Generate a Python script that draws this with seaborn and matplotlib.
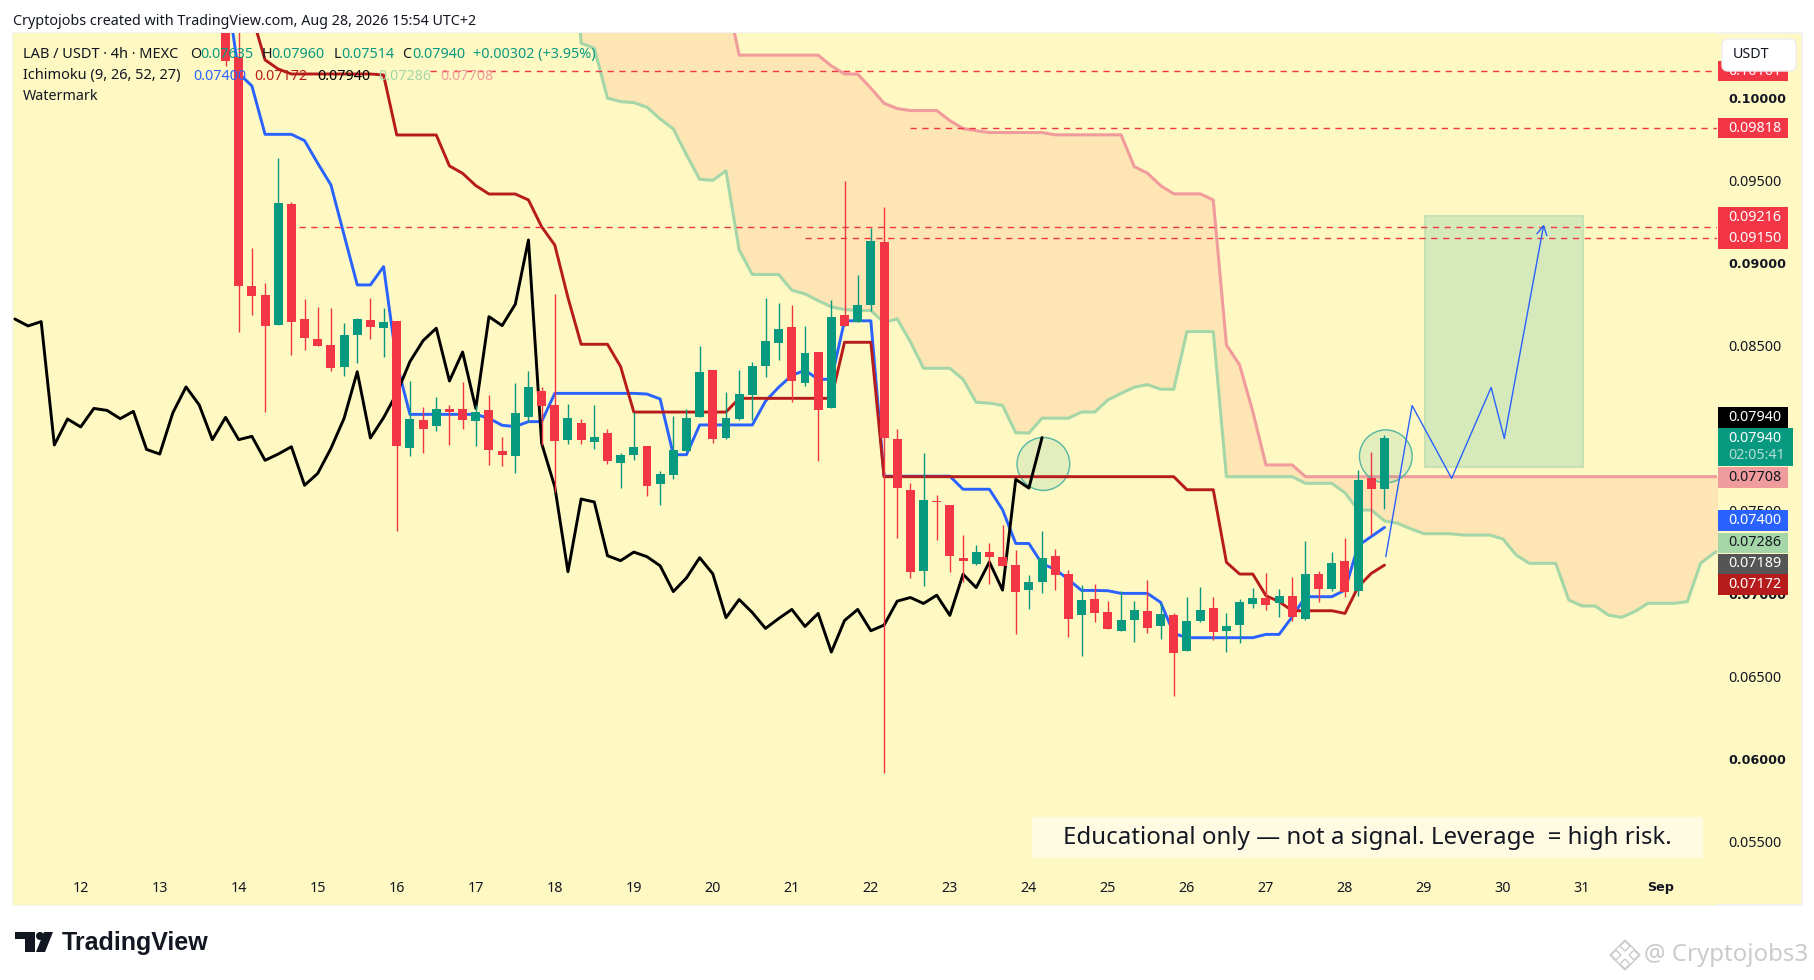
import numpy as np
import matplotlib
matplotlib.use('Agg')
import matplotlib.pyplot as plt
from matplotlib.patches import Rectangle, Ellipse, Polygon, FancyBboxPatch
from matplotlib.transforms import blended_transform_factory, IdentityTransform
import seaborn as sns

# all prices are in units of 0.00001 USDT
first_candle = 11
opens = [10500, 10248, 8860, 8806, 8625, 9357, 8661, 8540, 8504, 8373, 8564, 8655, 8609, 8649, 7882, 8050, 8016, 8114,
         8116, 8046, 8110, 7862, 7834, 8070, 8225, 8141, 7931, 8032, 7919, 7971, 7792, 7840, 7893, 7665, 7719, 7864,
         8070, 8352, 7942, 8057, 8203, 8379, 8518, 8614, 8272, 8463, 8121, 8685, 8640, 8748, 9128, 7937, 7629, 7134,
         7559, 7538, 7217, 7177, 7253, 7222, 7170, 7024, 7072, 7228, 7118, 6873, 6968, 6888, 6773, 6840, 6894, 6803,
         6870, 6652, 6834, 6912, 6773, 6810, 6937, 6973, 6943, 6985, 6846, 7118, 7027, 7197, 7015, 7699, 7635]
highs = [10600, 10600, 9088, 8877, 9633, 9371, 8782, 8732, 8726, 8635, 8669, 8786, 8726, 8649, 8286, 8131, 8187, 8141,
         8280, 8141, 8201, 7947, 8274, 8346, 8250, 8812, 8147, 8054, 8141, 7995, 7848, 8098, 7893, 7741, 8074, 8116,
         8498, 8352, 8222, 8353, 8401, 8788, 8760, 8748, 8619, 8463, 8776, 9496, 8927, 9209, 9336, 7997, 7667, 7851,
         7598, 7538, 7356, 7296, 7308, 7416, 7265, 7115, 7380, 7270, 7143, 7052, 7058, 6955, 7015, 6955, 7082, 6943,
         6882, 6979, 7040, 6979, 6882, 6967, 7033, 7124, 7027, 7100, 7318, 7136, 7251, 7336, 7747, 7856, 7960]
lows = [10194, 8584, 8685, 8100, 8625, 8445, 8473, 8500, 8348, 8318, 8397, 8540, 8433, 7380, 7834, 7852, 7985, 7899,
        7997, 7895, 7780, 7774, 7731, 8040, 7899, 7616, 7907, 7907, 7876, 7786, 7640, 7810, 7592, 7538, 7695, 7864,
        8070, 7911, 7937, 8052, 8052, 8308, 8415, 8157, 8253, 7801, 8121, 8616, 8640, 8707, 5917, 7335, 7093, 7043,
        7323, 7131, 7069, 7172, 7060, 7165, 6754, 6907, 7006, 7022, 6740, 6625, 6830, 6785, 6773, 6707, 6761, 6725,
        6380, 6652, 6828, 6719, 6646, 6701, 6912, 6900, 6858, 6834, 6840, 6949, 7015, 6979, 6985, 7354, 7514]
closes = [10222, 8862, 8800, 8620, 9365, 8645, 8548, 8500, 8367, 8564, 8661, 8615, 8643, 7895, 8056, 7997, 8116, 8098,
          8052, 8098, 7870, 7840, 8092, 8250, 8137, 7925, 8062, 7931, 7947, 7804, 7838, 7886, 7653, 7723, 7868, 8062,
          8340, 7937, 8064, 8207, 8377, 8530, 8602, 8284, 8456, 8109, 8674, 8616, 8745, 9133, 7942, 7636, 7129, 7567,
          7555, 7225, 7196, 7253, 7220, 7165, 7007, 7070, 7216, 7115, 6848, 6962, 6885, 6785, 6840, 6900, 6791, 6876,
          6640, 6834, 6900, 6767, 6803, 6949, 6973, 6931, 6985, 6858, 7118, 7027, 7185, 7009, 7687, 7632, 7940]

first_tenkan = 11
tenkan = [10700, 10147, 10071, 9778, 9778, 9778, 9740, 9603, 9472, 9169, 8867, 8867, 8978, 8393, 8084, 8084, 8084, 8084,
          8084, 8084, 8060, 8018, 8010, 8040, 8040, 8211, 8211, 8211, 8211, 8211, 8211, 8211, 8207, 8177, 7840, 7840,
          8020, 8020, 8020, 8020, 8020, 8164, 8248, 8320, 8351, 8296, 8296, 8650, 8650, 8650, 7710, 7710, 7710, 7710,
          7710, 7710, 7631, 7631, 7631, 7507, 7303, 7303, 7180, 7147, 7085, 7019, 7019, 7017, 7001, 7001, 7001, 6947,
          6759, 6733, 6733, 6733, 6733, 6733, 6733, 6753, 6753, 6860, 6981, 6981, 6981, 7021, 7290, 7345, 7400]

first_kijun = 13
kijun = [10500, 10228, 10173, 10143, 10143, 10143, 10143, 10143, 10143, 10143, 10137, 9774, 9774, 9774, 9774, 9587, 9542,
         9468, 9417, 9417, 9417, 9381, 9219, 9108, 8790, 8508, 8508, 8508, 8373, 8098, 8098, 8098, 8098, 8098, 8098,
         8098, 8098, 8181, 8181, 8181, 8181, 8181, 8181, 8181, 8181, 8520, 8520, 8520, 7707, 7707, 7707, 7707, 7707,
         7707, 7707, 7707, 7707, 7707, 7707, 7707, 7707, 7707, 7707, 7707, 7707, 7707, 7707, 7707, 7707, 7707, 7707,
         7628, 7628, 7628, 7189, 7118, 7118, 6987, 6951, 6896, 6896, 6896, 6896, 6880, 7041, 7122, 7172]

first_chikou = -5
chikou = [8661, 8619, 8645, 7899, 8056, 8008, 8120, 8108, 8058, 8102, 7872, 7844, 8094, 8250, 8141, 7931, 8066, 7931,
          7951, 7806, 7844, 7888, 7655, 7727, 7878, 8060, 8342, 7941, 8064, 8211, 8403, 8530, 8605, 8286, 8461, 8120,
          8675, 8621, 8750, 9139, 7909, 7646, 7132, 7572, 7554, 7229, 7199, 7251, 7223, 7168, 7012, 7095, 7217, 7119,
          6854, 6964, 6885, 6789, 6849, 6904, 6801, 6880, 6646, 6837, 6904, 6775, 6809, 6954, 6976, 6940, 6990, 6868,
          7117, 7036, 7191, 7021, 7691, 7638, 7944]

first_cloud = 37
lead_green = [11500, 10329, 10299, 9997, 9976, 9970, 9942, 9871, 9811, 9654, 9506, 9500, 9557, 9079, 8930, 8930, 8930,
              8835, 8813, 8772, 8734, 8718, 8712, 8712, 8639, 8662, 8523, 8363, 8363, 8363, 8296, 8157, 8152, 8138,
              7973, 7971, 8061, 8061, 8061, 8098, 8098, 8171, 8211, 8248, 8264, 8236, 8236, 8585, 8585, 8585, 7707,
              7707, 7707, 7707, 7707, 7707, 7667, 7667, 7667, 7610, 7505, 7505, 7440, 7425, 7392, 7362, 7362, 7362,
              7354, 7354, 7354, 7330, 7233, 7183, 7183, 7183, 6961, 6925, 6925, 6870, 6856, 6891, 6941, 6941, 6941,
              6951, 7183, 7244, 7286]
lead_pink = [10800, 10800, 10800, 10800, 10800, 10800, 10800, 10800, 10800, 10800, 10800, 10800, 10632, 10257, 10257,
             10257, 10257, 10257, 10257, 10257, 10192, 10144, 10142, 10057, 9966, 9934, 9922, 9922, 9922, 9861, 9813,
             9800, 9789, 9789, 9789, 9789, 9789, 9775, 9775, 9775, 9775, 9775, 9775, 9583, 9543, 9468, 9418, 9418,
             9418, 9381, 8504, 8383, 8101, 7778, 7778, 7778, 7707, 7707, 7707, 7707, 7707, 7707, 7707, 7707, 7707,
             7707, 7707, 7707, 7707, 7707, 7707, 7707, 7707, 7707, 7707, 7707, 7707, 7707, 7707, 7707, 7707, 7707,
             7707, 7707, 7707, 7707, 7707, 7707, 7707]

# hand drawn path and target box
path_x = [99.1, 101.1, 104.1, 107.1, 108.1, 111.1]
path_y = [7223, 8137, 7697, 8247, 7939, 9234]
box_x = [102.07, 114.05]
box_y = [7767, 9284]
circle_x = [73.1, 99.1]
circle_y = [7784, 7830]

# dashed levels: price and the bar they start from
level_prices = [10161, 9818, 9216, 9150]
level_starts = [26.5, 63, 16.6, 55]

day_ticks = [0, 6, 12, 18, 24, 30, 36, 42, 48, 54, 60, 66, 72, 78, 84, 90, 96, 102, 108, 114, 120]
day_labels = ['12', '13', '14', '15', '16', '17', '18', '19', '20', '21', '22', '23', '24', '25', '26', '27', '28', '29',
              '30', '31', 'Sep']
price_ticks = [5500, 6000, 6500, 7000, 7500, 8000, 8500, 9000, 9500, 10000]
bold_ticks = [6000, 7000, 8000, 9000, 10000]

badge_labels = ['0.10161', '0.09818', '0.09216', '0.09150', '0.07940', '0.07708', '0.07400', '0.07286', '0.07189', '0.07172']
badge_centers = [10160, 9815, 9274, 9149, 8065, 7702, 7442, 7306, 7180, 7054]
badge_colors = ['#F23645', '#F23645', '#F23645', '#F23645', '#000000', '#F19C9C', '#2962FF', '#A5D6A7', '#555555', '#B71C1C']
badge_text = ['white', 'white', 'white', 'white', 'white', '#131722', 'white', '#131722', 'white', 'white']

UP = '#089981'
DOWN = '#F23645'
BG = '#FEF8C3'
W, H = 1815, 980
FONT = 'Noto Sans'
AX_W = 1704

sns.set_theme(style='white')
plt.rcParams['font.family'] = [FONT, 'DejaVu Sans']
plt.rcParams['axes.unicode_minus'] = False


def fx(x):
    return x / W


def fy(y):
    return 1 - y / H


def put(x, y, s, **kw):
    """text at figure pixel position, y is the text centre"""
    kw.setdefault('color', '#131722')
    kw.setdefault('fontsize', 10.3)
    kw.setdefault('zorder', 6)
    fig.text(fx(x), fy(y + 1.5), s, va='center', **kw)


fig = plt.figure(figsize=(W / 100, H / 100), dpi=100, facecolor='white')
fig.add_artist(Rectangle((fx(13), fy(905)), 1789 / W, 872 / H, transform=fig.transFigure, fc=BG, ec='#F0F0F0', lw=1.2, zorder=-1))
ax = fig.add_axes([fx(13), fy(905), AX_W / W, 872 / H], facecolor=BG)

o = np.array(opens) / 1e5
h = np.array(highs) / 1e5
l = np.array(lows) / 1e5
c = np.array(closes) / 1e5
bars = np.arange(first_candle, first_candle + len(o))
up = c >= o
colors = np.where(up, UP, DOWN)

# cloud
cloud_x = np.arange(first_cloud, first_cloud + len(lead_green))
green = np.array(lead_green) / 1e5
pink = np.array(lead_pink) / 1e5
ax.fill_between(cloud_x, green, pink, color='#FDE5B4', lw=0, zorder=1)
sns.lineplot(x=cloud_x, y=pink, ax=ax, color='#F19C9C', lw=2.2, estimator=None, zorder=2)
sns.lineplot(x=cloud_x, y=green, ax=ax, color='#A5D6A7', lw=2.2, estimator=None, zorder=2)

# target box and circles
ax.add_patch(Rectangle((box_x[0], box_y[0] / 1e5), box_x[1] - box_x[0], (box_y[1] - box_y[0]) / 1e5,
                       fc='#D6E9BB', ec='#C6E2B4', lw=1.5, zorder=2.2))
for i in range(2):
    ax.add_patch(Ellipse((circle_x[i], circle_y[i] / 1e5), 4.0, 320 / 1e5, fc=(0.03, 0.6, 0.5, 0.1),
                         ec='#55B5A3', lw=1, zorder=2.3))

# tenkan, then kijun, then the lagging line, like the indicator draws them
sns.lineplot(x=np.arange(first_tenkan, first_tenkan + len(tenkan)), y=np.array(tenkan) / 1e5, ax=ax, color='#2962FF', lw=2.1,
             estimator=None, zorder=3)
sns.lineplot(x=np.arange(first_kijun, first_kijun + len(kijun)), y=np.array(kijun) / 1e5, ax=ax, color='#B71C1C', lw=2.1,
             estimator=None, zorder=3)
sns.lineplot(x=np.arange(first_chikou, first_chikou + len(chikou)), y=np.array(chikou) / 1e5, ax=ax, color='black', lw=2.1,
             estimator=None, zorder=3)

# dashed levels
for p, s in zip(level_prices, level_starts):
    ax.hlines(p / 1e5, s, 125, colors='#F23645', lw=1, linestyles=(0, (4.5, 4)), zorder=3)

# candles on top of the lines
ax.vlines(bars, l, h, colors=colors, lw=1, zorder=4)
ax.bar(bars, np.maximum(np.abs(c - o), 0.00005), bottom=np.minimum(o, c), width=0.68, color=colors, lw=0, zorder=5)

# path with arrow at the end
px_ = np.array(path_x)
py_ = np.array(path_y) / 1e5
sns.lineplot(x=px_[:-1], y=py_[:-1], ax=ax, color='#2962FF', lw=1.0, estimator=None, sort=False, zorder=6)
ax.annotate('', xy=(px_[-1], py_[-1]), xytext=(px_[-2], py_[-2]), zorder=6,
            arrowprops=dict(arrowstyle='->,head_length=0.55,head_width=0.3', color='#2962FF', lw=1.0, shrinkA=0, shrinkB=0))

ax.set_xlim(-5.14, 124.25)
ax.set_ylim(0.05116, 0.10391)
ax.set_xlabel('')
ax.set_ylabel('')
sns.despine(ax=ax, left=True, right=True, top=True, bottom=True)

ax.set_xticks(day_ticks)
ax.set_xticklabels(day_labels)
ax.tick_params(axis='x', length=0, pad=-17, labelsize=10.3, labelcolor='#131722')
for t, s in zip(ax.get_xticklabels(), day_labels):
    if s == 'Sep':
        t.set_fontfamily('DejaVu Sans')
        t.set_fontweight('bold')
        t.set_fontsize(9.15)

ax.yaxis.tick_right()
ax.set_yticks([p / 1e5 for p in price_ticks])
ax.set_yticklabels(['%.5f' % (p / 1e5) for p in price_ticks])
ax.tick_params(axis='y', length=0, pad=8, labelsize=10.3, labelcolor='#131722')
for t, p in zip(ax.get_yticklabels(), price_ticks):
    if p in bold_ticks:
        t.set_fontfamily('DejaVu Sans')
        t.set_fontweight('bold')
        t.set_fontsize(9.15)

# price badges
trans = blended_transform_factory(ax.transAxes, ax.transData)
for lab, cen, col, tc in zip(badge_labels, badge_centers, badge_colors, badge_text):
    ax.add_patch(Rectangle((1 + 1 / AX_W, (cen - 62) / 1e5), 70 / AX_W, 124 / 1e5, transform=trans, fc=col, lw=0, clip_on=False, zorder=10))
    ax.text(1 + 11 / AX_W, cen / 1e5, lab, transform=trans, color=tc, fontsize=10.3, ha='left', va='center', zorder=11)
ax.add_patch(Rectangle((1 + 1 / AX_W, 7773 / 1e5), 75 / AX_W, 228 / 1e5, transform=trans, fc=UP, lw=0, clip_on=False, zorder=10))
ax.text(1 + 11 / AX_W, 7935 / 1e5, '0.07940', transform=trans, color='white', fontsize=10.3, ha='left', va='center', zorder=11)
ax.text(1 + 11 / AX_W, 7834 / 1e5, '02:05:41', transform=trans, color='#B5DDD5', fontsize=10.3, ha='left', va='center', zorder=11)

# header and legend rows
put(13, 20, 'Cryptojobs created with TradingView.com, Aug 28, 2026 15:54 UTC+2')
put(23, 53, 'LAB / USDT · 4h · MEXC', fontsize=10.5)
for x, s, col in [(190, 'O', '#131722'), (200, '0.07635', UP), (262, 'H', '#131722'), (271, '0.07960', UP),
                  (333.6, 'L', '#131722'), (341, '0.07514', UP), (402, 'C', '#131722'), (412, '0.07940', UP),
                  (473.5, '+0.00302 (+3.95%)', UP)]:
    put(x, 53, s, color=col)
put(23, 74.5, 'Ichimoku (9, 26, 52, 27)', fontsize=10.5)
for x, s, col in [(193, '0.07400', '#2962FF'), (254.5, '0.07172', '#B71C1C'), (317, '0.07940', 'black'),
                  (378.6, '0.07286', '#A5D6A7'), (440, '0.07708', '#F19C9C')]:
    put(x, 74.5, s, color=col)
put(23, 95.5, 'Watermark')

# currency box, drawn in pixels so the corners stay round
fig.add_artist(FancyBboxPatch((1728, H - 65), 62, 20, transform=IdentityTransform(), fc='white', ec='#EEEEEE', lw=1,
                              boxstyle='round,pad=6,rounding_size=6', zorder=5))
put(1733, 53.5, 'USDT')

# educational note
fig.add_artist(Rectangle((fx(1032), fy(858)), 671 / W, 41 / H, transform=fig.transFigure, fc='#FFFBE3', lw=0, zorder=2))
put(1367, 836, 'Educational only — not a signal. Leverage  = high risk.', fontsize=17.3, ha='center')

# TradingView logo
logo = '#131722'
fig.add_artist(Polygon([(fx(15), fy(932)), (fx(35), fy(932)), (fx(35), fy(952)), (fx(25), fy(952)), (fx(25), fy(939)), (fx(15), fy(939))],
                       transform=fig.transFigure, fc=logo, lw=0))
fig.add_artist(Polygon([(fx(44), fy(932)), (fx(53), fy(932)), (fx(45), fy(952)), (fx(36), fy(952))], transform=fig.transFigure, fc=logo, lw=0))
fig.add_artist(Ellipse((fx(40), fy(936)), 8 / W, 8 / H, transform=fig.transFigure, fc=logo, lw=0))
put(62, 941, 'TradingView', fontsize=18, fontweight='bold', family='Liberation Sans')

# bottom right watermark
wm = '#CBCBCB'
for dx, dy, r in [(0, -9, 5), (-9, 0, 5), (9, 0, 5), (0, 9, 5), (0, 0, 15)]:
    cx, cy = 1625 + dx, 955 + dy
    fig.add_artist(Polygon([(fx(cx), fy(cy - r)), (fx(cx + r), fy(cy)), (fx(cx), fy(cy + r)), (fx(cx - r), fy(cy))],
                           transform=fig.transFigure, fc='none', ec=wm, lw=1))
put(1644, 953.5, '@ Cryptojobs3', fontsize=17.3, color=wm)

fig.savefig('out.png', dpi=100, facecolor='white')
